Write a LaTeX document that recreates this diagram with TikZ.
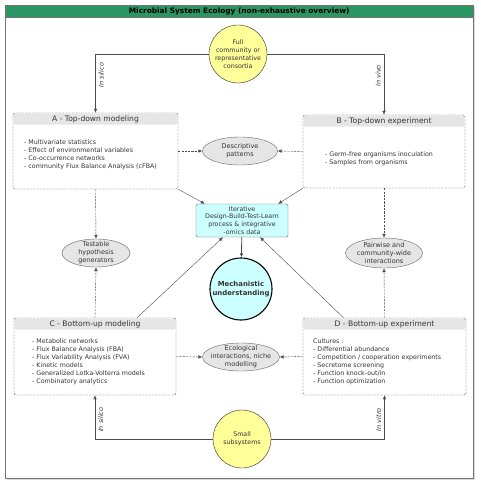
\documentclass[tikz,border=0pt]{standalone}
\usepackage{fontspec}
\setmainfont{DejaVu Sans}
\usetikzlibrary{shapes.geometric,arrows.meta,positioning}
\definecolor{ecogreen}{RGB}{42,150,98}
\definecolor{iterblue}{RGB}{204,255,255}
\definecolor{hubyellow}{RGB}{255,255,153}

\begin{document}
\begin{tikzpicture}[
    x=1pt, y=-1pt,
    every node/.style={text=black!80},
    panel/.style={rectangle, draw=black!70, dash pattern=on 2.2pt off 1.1pt, rounded corners=2pt, inner sep=0pt},
    header/.style={rectangle, fill=black!10, rounded corners=1.5pt, inner sep=0pt, minimum height=11pt, font=\fontsize{7.6}{9}\selectfont},
    items/.style={align=left, anchor=west, inner sep=0pt, font=\fontsize{6.3}{8}\selectfont},
    bubble/.style={ellipse, draw=black!60, fill=black!10, align=center, inner sep=-4pt, font=\fontsize{6.5}{8}\selectfont},
    hub/.style={circle, draw=black!85, fill=hubyellow, align=center, inner sep=0pt, minimum size=58pt, font=\fontsize{6.3}{8}\selectfont},
    link/.style={draw=black!70, -{Latex[length=4pt,width=3.5pt]}},
    dlink/.style={link, dash pattern=on 2.2pt off 1.1pt},
    way/.style={font=\itshape\fontsize{6.5}{8}\selectfont, rotate=90, inner sep=3pt}
]
\useasboundingbox (0,0) rectangle (480,484);

% frame and title
\fill[black!15] (7,7) rectangle (475,480);
\draw[draw=black!55, fill=white, line width=0.8pt] (5,5) rectangle (473,478);
\node[fill=ecogreen, draw=black!55, minimum width=468pt, minimum height=12pt, inner sep=0pt, anchor=north west,
      text=black, font=\bfseries\fontsize{7.4}{9}\selectfont] (title) at (5,5) {Microbial System Ecology (non-exhaustive overview)};

% the four quadrants
\node[panel, minimum width=165pt, minimum height=76pt] (boxA) at (95.5,151) {};
\node[header, minimum width=164pt, anchor=north] (headA) at ([yshift=-0.5pt]boxA.north) {A - Top-down modeling};
\node[items] (listA) at (24,155) {- Multivariate statistics\\- Effect of environmental variables\\- Co-occurrence networks\\- community Flux Balance Analysis (cFBA)};

\node[panel, minimum width=162pt, minimum height=73pt] (boxB) at (384,151.5) {};
\node[header, minimum width=161pt, anchor=north] (headB) at ([yshift=-0.5pt]boxB.north) {B - Top-down experiment};
\node[items] (listB) at (325,159) {- Germ-free organisms inoculation\\- Samples from organisms};

\node[panel, minimum width=162pt, minimum height=77pt] (boxC) at (95,356.5) {};
\node[header, minimum width=161pt, anchor=north] (headC) at ([yshift=-0.5pt]boxC.north) {C - Bottom-up modeling};
\node[items] (listC) at (32,362) {- Metabolic networks\\- Flux Balance Analysis (FBA)\\- Flux Variability Analysis (FVA)\\- Kinetic models\\- Generalized Lotka-Volterra models\\- Combinatory analytics};

\node[panel, minimum width=163pt, minimum height=77pt] (boxD) at (384.5,356.5) {};
\node[header, minimum width=162pt, anchor=north] (headD) at ([yshift=-0.5pt]boxD.north) {D - Bottom-up experiment};
\node[items] (listD) at (313,362) {Cultures :\\- Differential abundance\\- Competition / cooperation experiments\\- Secretome screening\\- Function knock-out/in\\- Function optimization};

% centre
\node[rectangle, draw=black!60, fill=iterblue, rounded corners=1.5pt, align=center, inner sep=0pt,
      minimum width=92pt, minimum height=33pt, font=\fontsize{6.3}{7.8}\selectfont] (iter) at (242,220.5)
      {Iterative\\Design-Build-Test-Learn\\process \& integrative\\-omics data};
\node[circle, draw=black, line width=1.1pt, fill=iterblue, align=center, inner sep=0pt, minimum size=62pt,
      font=\bfseries\fontsize{6.9}{8.5}\selectfont] (mech) at (241,289) {Mechanistic\\understanding};

\node[bubble, minimum width=75pt, minimum height=28pt] (desc) at (240,151) {Descriptive\\patterns};
\node[bubble, minimum width=68pt, minimum height=28pt] (test) at (96,253) {Testable\\hypothesis\\generators};
\node[bubble, minimum width=77pt, minimum height=30pt] (pair) at (384,253) {Pairwise and\\community-wide\\interactions};
\node[bubble, minimum width=77pt, minimum height=28pt] (eco) at (241,357) {Ecological\\interactions, niche\\modelling};

\node[hub] (full) at (238,54) {Full\\community or\\representative\\consortia};
\node[hub] (small) at (242,439) {Small\\subsystems};

% connectors
\draw[link] (full.west) -| node[way, below, pos=.68] {In silico} (boxA.north);
\draw[link] (full.east) -| node[way, above, pos=.68] {In vivo} (boxB.north);
\draw[link] (small.west) -| node[way, below, pos=.72] {In silico} (boxC.south);
\draw[link] (small.east) -| node[way, above, pos=.72] {In vitro} (boxD.south);

\draw[dlink] (boxA.east) -- (desc.west);
\draw[dlink] (boxB.west) -- (desc.east);
\draw[dlink] (boxA.south) -- (test.north);
\draw[dlink] (boxC.north) -- (test.south);
\draw[dlink] (boxB.south) -- (pair.north);
\draw[dlink] (boxD.north) -- (pair.south);
\draw[dlink] (boxC.east) -- (eco.west);
\draw[dlink] (boxD.west) -- (eco.east);

\draw[link] (boxA.south east) -- ([xshift=9pt]iter.north west);
\draw[link] (boxB.south west) -- ([xshift=-10pt]iter.north east);
\draw[link] ([xshift=42pt]boxC.north) -- ([xshift=-19pt]iter.south);
\draw[link] ([xshift=-41pt]boxD.north) -- ([xshift=18pt]iter.south);
\draw[link, thick] (iter) -- (mech);
\end{tikzpicture}
\end{document}
